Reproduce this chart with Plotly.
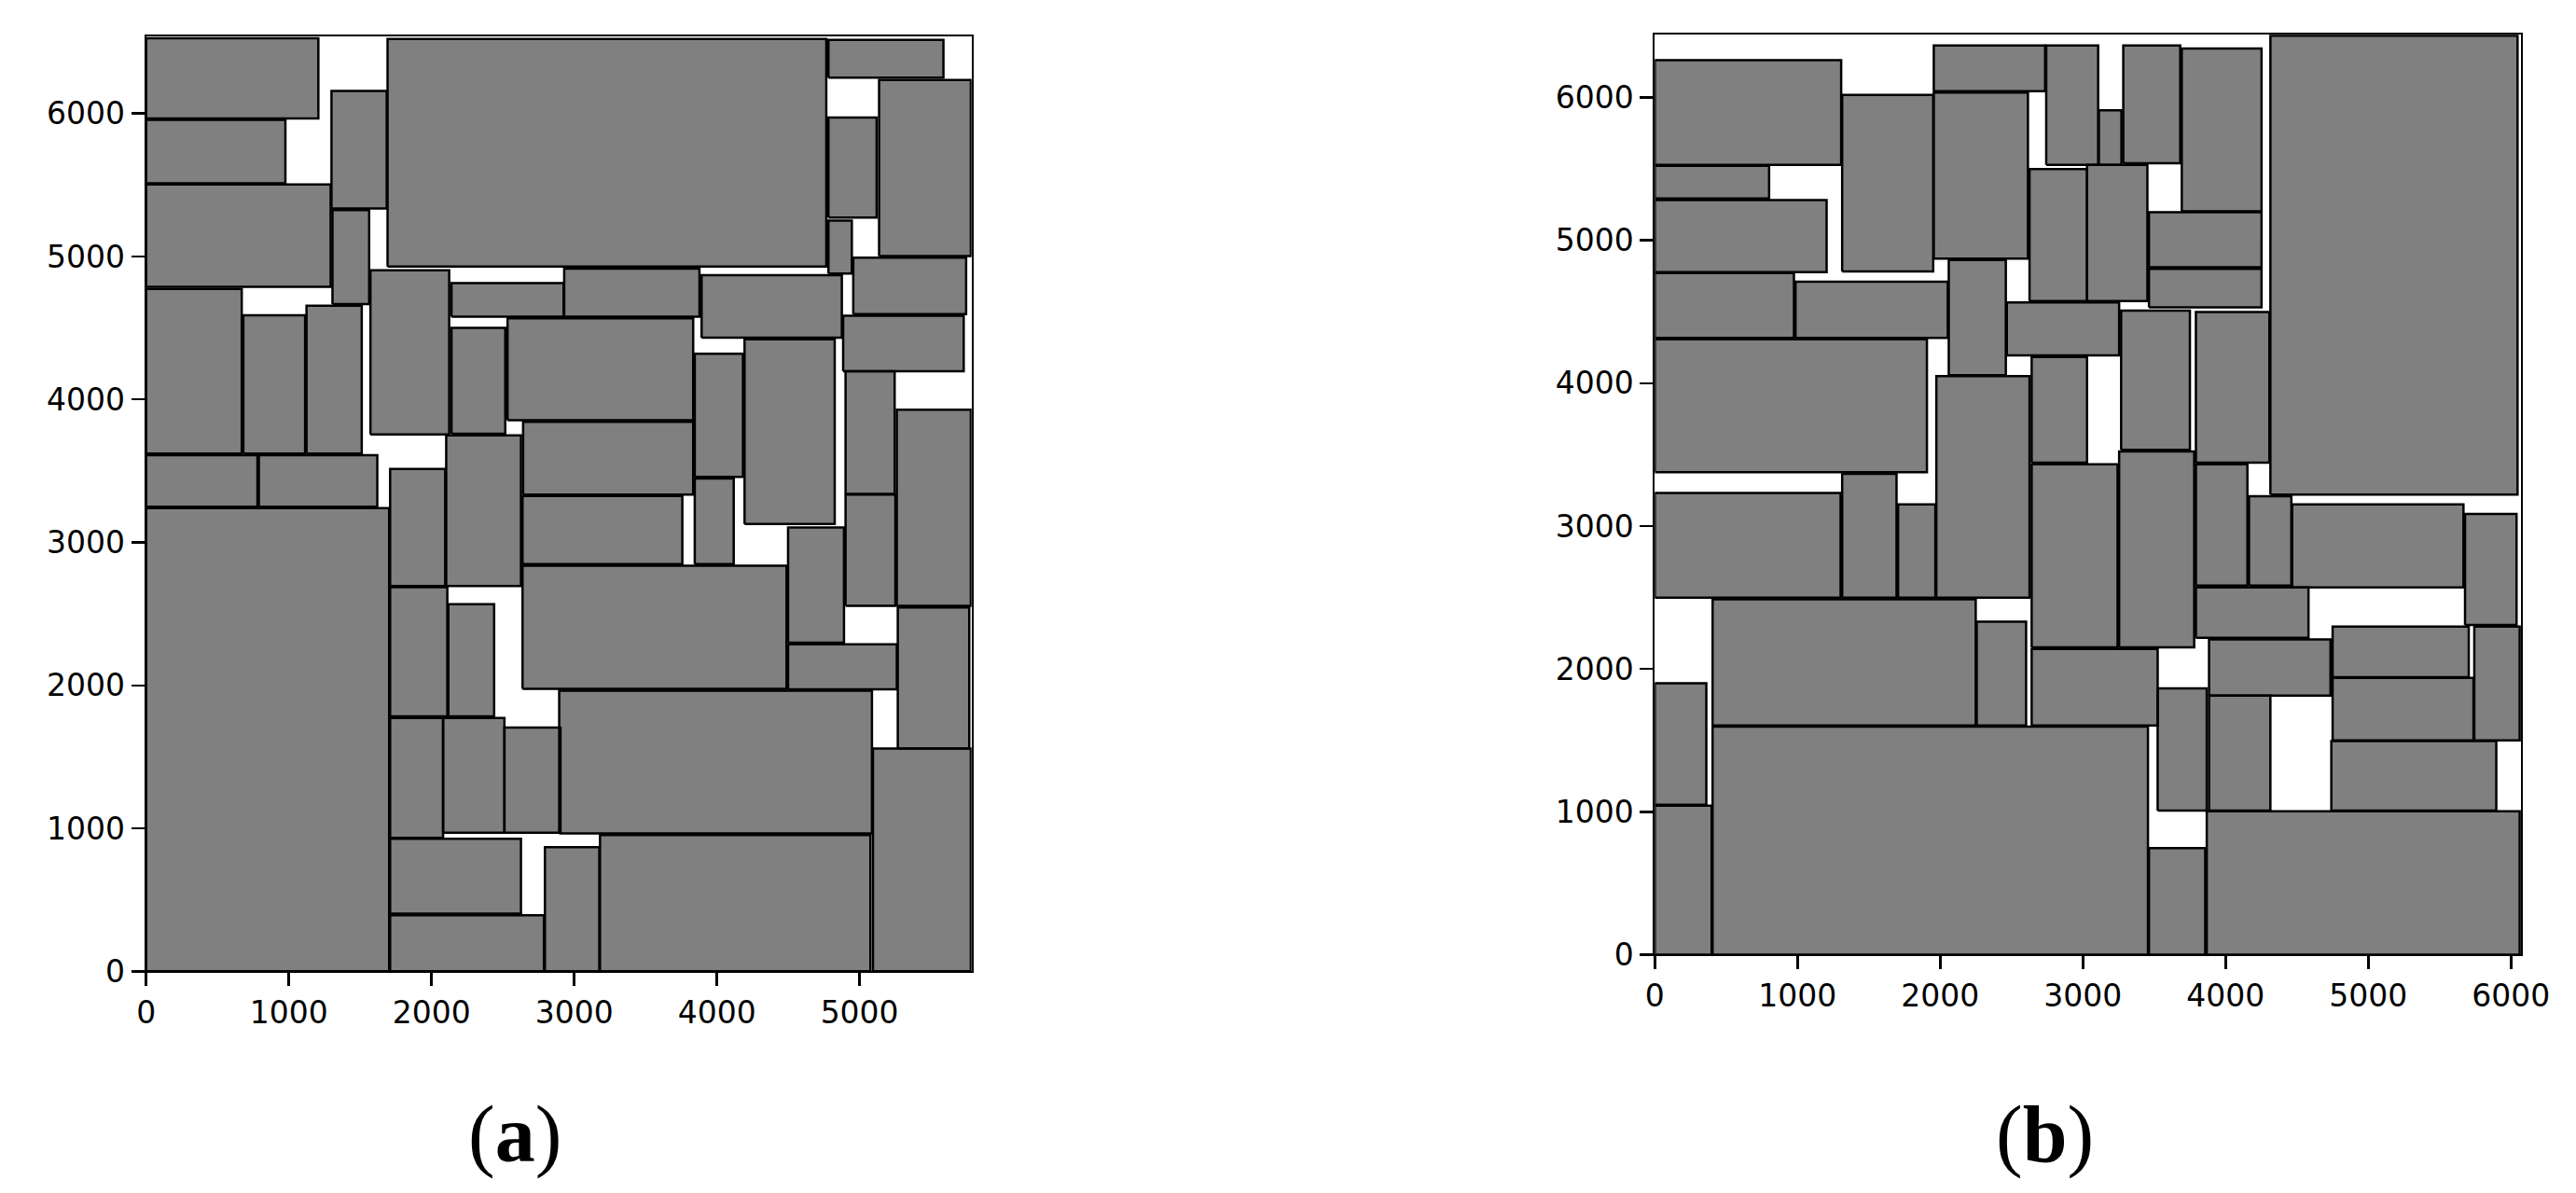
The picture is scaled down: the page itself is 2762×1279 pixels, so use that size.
import plotly.graph_objects as go

# ---------------- Panel (a): rectangles (x0, y0, x1, y1) ----------------
a_x0 = [0, 0, 0, 1299, 1306, 1692, 4782, 5137, 4782, 4782, 4956, 4885, 3893, 2930, 2140,
        1572, 0, 681, 1124, 0, 790, 0, 2140, 2533, 3845, 4194, 4902, 5261, 2642, 2638,
        3845, 2103, 1710, 2638, 4499, 4902, 5268, 4499, 1710, 2118, 2895, 1710, 2081, 2511,
        1710, 1710, 2795, 3181, 5094]
a_y0 = [5966, 5512, 4788, 5335, 4667, 4929, 6251, 5003, 5272, 4880, 4596, 4197, 4432, 4578, 4578,
        3755, 3622, 3622, 3622, 3250, 3250, 0, 3760, 3854, 3458, 3128, 3339, 2556, 3335, 2848,
        2848, 2695, 2695, 1975, 2298, 2556, 1558, 1973, 1783, 1783, 964, 933, 969, 969,
        404, 0, 0, 0, 0]
a_x1 = [1207, 976, 1293, 1686, 1563, 4767, 5588, 5780, 5120, 4946, 5747, 5730, 4876, 3878, 2926,
        2124, 670, 1114, 1511, 780, 1620, 1703, 2517, 3834, 4183, 4826, 5246, 5780, 3834, 3758,
        4118, 2627, 2096, 4488, 4891, 5251, 5769, 5261, 2111, 2439, 5087, 2081, 2511, 2904,
        2627, 2788, 3176, 5076, 5780]
a_y1 = [6526, 5955, 5503, 6157, 5324, 6522, 6515, 6235, 5971, 5250, 4992, 4585, 4869, 4914, 4813,
        4903, 4773, 4589, 4656, 3610, 3610, 3240, 4500, 4567, 4320, 4421, 4197, 3928, 3843, 3324,
        3447, 3749, 3514, 2836, 3105, 3335, 2545, 2287, 2686, 2567, 1962, 1771, 1771, 1704,
        926, 392, 868, 953, 1558]

# ---------------- Panel (b): rectangles (x0, y0, x1, y1) ----------------
b_x0 = [0, 0, 0, 1313, 1955, 2743, 3112, 3283, 3693, 4314, 1955, 2626, 3029, 3463, 3463,
        0, 986, 2060, 2467, 0, 1973, 2641, 3268, 3792, 2641, 3254, 3792, 4164, 4467, 5678,
        0, 1313, 1705, 0, 0, 405, 2256, 405, 2641, 3463, 3868, 3524, 3884, 4741, 4750,
        5743, 4750, 3884, 3792]
b_y0 = [5529, 5294, 4778, 4782, 6045, 5529, 5529, 5540, 5204, 3220, 4872, 4576, 4576, 4812, 4531,
        4318, 4318, 4056, 4195, 3377, 2499, 3444, 3534, 3444, 2151, 2151, 2584, 2584, 2571, 2308,
        2499, 2499, 2499, 1049, 0, 1604, 1604, 0, 1604, 0, 0, 1009, 1009, 1009, 1499,
        1499, 1942, 1813, 2218]
b_x1 = [1306, 801, 1204, 1951, 2735, 3107, 3270, 3682, 4252, 6046, 2615, 3029, 3452, 4252, 4252,
        975, 2053, 2460, 3254, 1907, 2626, 3029, 3750, 4307, 3243, 3780, 4153, 4461, 5667, 6039,
        1302, 1694, 1966, 361, 398, 2249, 2602, 3456, 3524, 3857, 6061, 3868, 4314, 5897, 5737,
        6061, 5704, 4735, 4581]
b_y1 = [6262, 5522, 5283, 6018, 6365, 6365, 5910, 6365, 6343, 6433, 6034, 5500, 5529, 5197, 4800,
        4771, 4711, 4863, 4565, 4307, 4049, 4184, 4509, 4498, 3433, 3522, 3433, 3209, 3152, 3085,
        3231, 3365, 3151, 1899, 1043, 2488, 2330, 1596, 2139, 746, 1004, 1863, 1813, 1494, 1937,
        2297, 2297, 2207, 2571]

# bin sizes (axis extents)
a_width, a_height = 5785, 6540
b_width, b_height = 6072, 6440

a_xticks = [0, 1000, 2000, 3000, 4000, 5000]
b_xticks = [0, 1000, 2000, 3000, 4000, 5000, 6000]
yticks = [0, 1000, 2000, 3000, 4000, 5000, 6000]
panel_labels = ["(<b>a</b>)", "(<b>b</b>)"]


def outline(x0s, y0s, x1s, y1s):
    xs, ys = [], []
    for x0, y0, x1, y1 in zip(x0s, y0s, x1s, y1s):
        xs += [x0, x1, x1, x0, x0, None]
        ys += [y0, y0, y1, y1, y0, None]
    return xs, ys


fig = go.Figure()
for (x0s, y0s, x1s, y1s), xa, ya in [((a_x0, a_y0, a_x1, a_y1), "x", "y"),
                                     ((b_x0, b_y0, b_x1, b_y1), "x2", "y2")]:
    xs, ys = outline(x0s, y0s, x1s, y1s)
    fig.add_trace(go.Scatter(
        x=xs, y=ys, xaxis=xa, yaxis=ya, mode="lines", fill="toself",
        fillcolor="#808080", line=dict(color="black", width=2.5),
        hoverinfo="skip", showlegend=False))

W, H = 2762, 1279
tickfont = dict(family="DejaVu Sans", size=33, color="black")
common = dict(showgrid=False, zeroline=False, showline=True, mirror=True,
              linecolor="black", linewidth=2, ticks="outside", ticklen=14,
              tickwidth=2.5, tickcolor="black", tickfont=tickfont, automargin=False)

fig.update_layout(
    width=W, height=H, margin=dict(l=0, r=0, t=0, b=0),
    paper_bgcolor="white", plot_bgcolor="white",
    xaxis=dict(domain=[156.7 / W, 1041.7 / W], range=[0, a_width],
               tickvals=a_xticks, anchor="y", **common),
    yaxis=dict(domain=[1 - 1041.3 / H, 1 - 38.9 / H], range=[0, a_height],
               tickvals=yticks, anchor="x", **common),
    xaxis2=dict(domain=[1774.3 / W, 2703.3 / W], range=[0, b_width],
                tickvals=b_xticks, anchor="y2", **common),
    yaxis2=dict(domain=[1 - 1023.4 / H, 1 - 37.2 / H], range=[0, b_height],
                tickvals=yticks, anchor="x2", **common),
    annotations=[
        dict(text=panel_labels[0], xref="paper", yref="paper",
             x=552 / W, y=1 - 1216 / H, xanchor="center", yanchor="middle",
             showarrow=False, font=dict(family="Liberation Serif", size=86, color="black")),
        dict(text=panel_labels[1], xref="paper", yref="paper",
             x=2192 / W, y=1 - 1216 / H, xanchor="center", yanchor="middle",
             showarrow=False, font=dict(family="Liberation Serif", size=86, color="black")),
    ],
)

fig.write_html("out.html",
               config={"displayModeBar": False, "staticPlot": True},
               post_script="document.body.style.margin='0px';document.body.style.overflow='hidden';")
